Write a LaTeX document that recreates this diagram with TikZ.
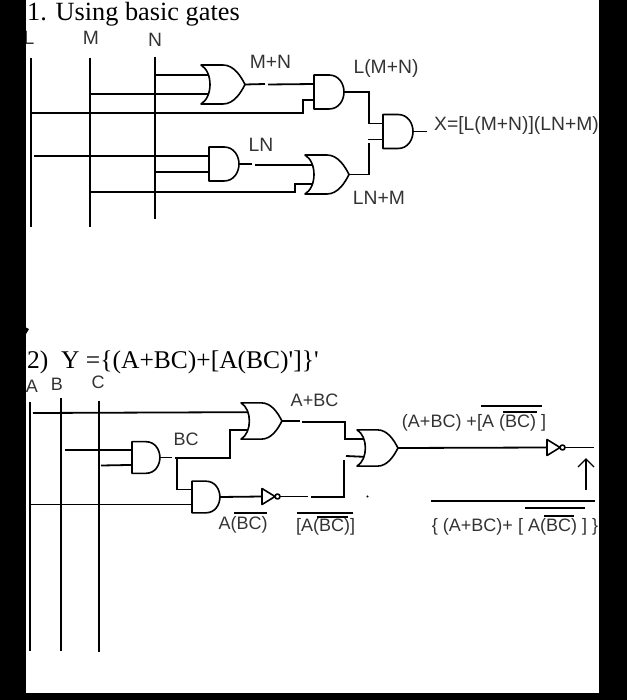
\documentclass[tikz,border=0pt]{standalone}
\usepackage{fontspec}
\setmainfont{Liberation Serif}
\newfontfamily\arialfont{Liberation Sans}
\definecolor{labelgray}{HTML}{333333}
\tikzset{
  wire/.style={black, line width=1.8pt},
  bus/.style={black, line width=2pt},
  gate/.style={black, line width=1.6pt, line join=round},
  thinbar/.style={black, line width=1.2pt},
  heading/.style={anchor=base west, font=\fontsize{25.5}{25.5}\selectfont},
  sig/.style={text=labelgray, font=\arialfont\fontsize{19.3}{19.3}\selectfont},
  sigsmall/.style={text=labelgray, font=\arialfont\fontsize{18}{18}\selectfont},
  andgate/.pic={
    \draw [gate] (0,17) -- (15,17) .. controls (25,17) and (30,8) .. (30,0) .. controls (30,-8) and (25,-17) .. (15,-17) -- (0,-17) -- cycle;
    \coordinate (-in1) at (0,8);
    \coordinate (-in2) at (0,-8);
    \coordinate (-out) at (30,0);
  },
  orgate/.pic={
    \draw [gate] (0,19.5) -- (22,19.5) .. controls (33,19.5) and (40,8) .. (44,0) .. controls (40,-8) and (33,-19.5) .. (22,-19.5) -- (0,-19.5) .. controls (6,-16) and (9,-8) .. (9,0) .. controls (9,8) and (6,16) .. cycle;
    \coordinate (-in1) at (8,9.5);
    \coordinate (-in2) at (8,-9.5);
    \coordinate (-out) at (44,0);
  },
  notgate/.pic={
    \draw [gate] (0,8) -- (13,0) -- (0,-8) -- cycle;
    \draw [gate] (15.5,0) circle (2.5);
    \coordinate (-in) at (0,0);
    \coordinate (-out) at (18,0);
  },
}
\begin{document}
\begin{tikzpicture}[x=1pt,y=1pt]
\tikzstyle{every node}+=[inner sep=0pt]
\useasboundingbox (0,0) rectangle (627,-700);
% part 1
\node [heading, font=\fontsize{26.3}{26.3}\selectfont] (title1) at (27,-21) {1. Using basic gates};
\node [sig] (lblL) at (29,-38) {L};
\node [sig] (lblM) at (91,-38) {M};
\node [sig] (lblN) at (155,-40) {N};
\coordinate (Lt) at (30.5,-58);
\coordinate (Lb) at (30.5,-227);
\coordinate (Mt) at (90,-58);
\coordinate (Mb) at (90,-227);
\coordinate (Nt) at (154.5,-57);
\coordinate (Nb) at (154.5,-219);
\draw [bus] (Lt) -- (Lb);
\draw [bus] (Mt) -- (Mb);
\draw [bus] (Nt) -- (Nb);
\pic (or1) at (201,-84.5) {orgate};
\pic (and1) at (314,-92) {andgate};
\pic (and2) at (209,-164) {andgate};
\pic (or2) at (305,-174.5) {orgate};
\pic (and3) at (383,-131.5) {andgate};
\draw [wire] (Nt |- or1-in1) -- (or1-in1);
\draw [wire] (Mt |- or1-in2) -- (or1-in2);
\coordinate (a1) at (265,-84);
\coordinate (a2) at (268,-84.5);
\draw [wire] (or1-out) -- (a1);
\draw [wire] (a2) -- (and1-in1);
\coordinate (a3) at (303,-113);
\draw [wire] (Lt |- a3) -- (a3) -- (a3 |- and1-in2) -- (and1-in2);
\coordinate (a4) at (369,-92);
\draw [wire] (and1-out) -- (a4) -- (a4 |- and3-in1) -- (and3-in1);
\coordinate (b1) at (34,-156);
\draw [wire] (b1) -- (and2-in1);
\draw [wire] (Nt |- and2-in2) -- (and2-in2);
\coordinate (b2) at (252,-164);
\coordinate (b3) at (255,-165);
\draw [wire] (and2-out) -- (b2);
\draw [wire] (b3) -- (or2-in1);
\coordinate (b4) at (295,-192);
\draw [wire] (Mt |- b4) -- (b4) -- (b4 |- or2-in2) -- (or2-in2);
\coordinate (b5) at (369,-143);
\coordinate (b6) at (368,-139.5);
\draw [wire] (or2-out) -- (369,-174.5) -- (b5);
\draw [wire] (b6) -- (and3-in2);
\coordinate (xout) at (427,-131.5);
\draw [wire] (and3-out) -- (xout);
\node [sig] (lblMN) at (270.5,-62) {M+N};
\node [sig] (lblLMN) at (386,-69) {L(M+N)};
\node [sig] (lblLN) at (261,-145) {LN};
\node [sig] (lblLNM) at (379,-198) {LN+M};
\node [sig, anchor=west] (lblX) at (434,-126) {X=[L(M+N)](LN+M)};
% part 2
\fill [black] (25,-327) -- (29,-329) -- (26,-334) -- cycle;
\node [heading] (title2) at (27,-368) {2)\ \ Y =\{(A+BC)+[A(BC)\textquotesingle]\}\textquotesingle};
\node [sigsmall] (lblA) at (32,-386) {A};
\node [sigsmall] (lblB) at (57,-384) {B};
\node [sigsmall] (lblC) at (98,-382) {C};
\coordinate (At) at (30,-402);
\coordinate (Ab) at (30,-651);
\coordinate (Bt) at (61,-398);
\coordinate (Bb) at (61,-651);
\coordinate (Ct) at (98.5,-401);
\coordinate (Cb) at (98.5,-652);
\draw [bus] (At) -- (Ab);
\draw [bus] (Bt) -- (Bb);
\draw [bus] (Ct) -- (Cb);
\pic [scale=.93] (or3) at (241,-421) {orgate};
\pic [scale=.93] (and4) at (132,-457.5) {andgate};
\pic [scale=.93] (and5) at (192,-497) {andgate};
\pic (inv1) at (262,-496.5) {notgate};
\pic [scale=.93] (or4) at (357,-448) {orgate};
\pic (inv2) at (547,-447.5) {notgate};
\coordinate (c1) at (33,-413);
\draw [wire] (c1) -- (or3-in1);
\coordinate (c2) at (65,-450);
\coordinate (c3) at (101,-465.5);
\draw [wire] (c2) -- (and4-in1);
\draw [wire] (c3) -- (and4-in2);
\coordinate (c4) at (172,-457.5);
\coordinate (c5) at (175,-458);
\coordinate (c6) at (230,-458);
\coordinate (c7) at (177,-458);
\draw [wire] (and4-out) -- (c4);
\draw [wire] (c5) -- (c6) -- (c6 |- or3-in2) -- (or3-in2);
\draw [wire] (c7) -- (c7 |- and5-in1) -- (and5-in1);
\draw [wire] (At |- and5-in2) -- (and5-in2);
\draw [wire] (and5-out) -- (inv1-in);
\coordinate (c8) at (308,-496.5);
\coordinate (c9) at (311,-497);
\coordinate (c10) at (344,-497);
\coordinate (c11) at (344,-460);
\coordinate (c12) at (346,-456);
\draw [wire] (inv1-out) -- (c8);
\draw [wire] (c9) -- (c10) -- (c11);
\draw [wire] (c12) -- (or4-in2);
\coordinate (d1) at (300,-421);
\coordinate (d2) at (302,-422);
\coordinate (d3) at (345,-422);
\draw [wire] (or3-out) -- (d1);
\draw [wire] (d2) -- (d3) -- (d3 |- or4-in1) -- (or4-in1);
\draw [wire] (or4-out) -- (inv2-in);
\coordinate (yout) at (594,-447.5);
\draw [wire] (inv2-out) -- (yout);
\coordinate (e1) at (586,-490);
\coordinate (e2) at (586,-459);
\draw [wire] (e1) -- (e2);
\draw [thinbar] (578,-467) -- (e2) -- (594,-467);
\draw [wire] (431,-501) -- (595,-501);
\fill [black] (367.5,-496.5) circle (1.2);
\node [sigsmall] (lblAB) at (314.5,-400.5) {A+BC};
\node [sigsmall] (lblBC) at (186,-439) {BC};
\node [sigsmall] (lblABC) at (243,-525) {A(BC)};
\draw [thinbar] (234,-513) -- (267,-513);
\node [sigsmall] (lblNABC) at (325.5,-527) {[A(BC)]};
\draw [thinbar] (297,-513) -- (353,-513);
\draw [thinbar] (317,-517) -- (348,-517);
\node [sigsmall] (lblSum) at (474,-423) {(A+BC) +[A (BC) ]};
\draw [thinbar] (481,-406) -- (542,-406);
\draw [thinbar] (503,-412) -- (537,-412);
\node [sigsmall] (lblY) at (515,-527) {\{ (A+BC)+ [ A(BC) ] \}};
\draw [thinbar] (525,-508) -- (585,-508);
\draw [thinbar] (544,-516) -- (574,-516);
% black edges
\fill [black] (0,0) rectangle (25.6,-700);
\fill [black] (599,0) rectangle (627,-700);
\fill [black] (0,-692.7) rectangle (627,-700);
\end{tikzpicture}
\end{document}
